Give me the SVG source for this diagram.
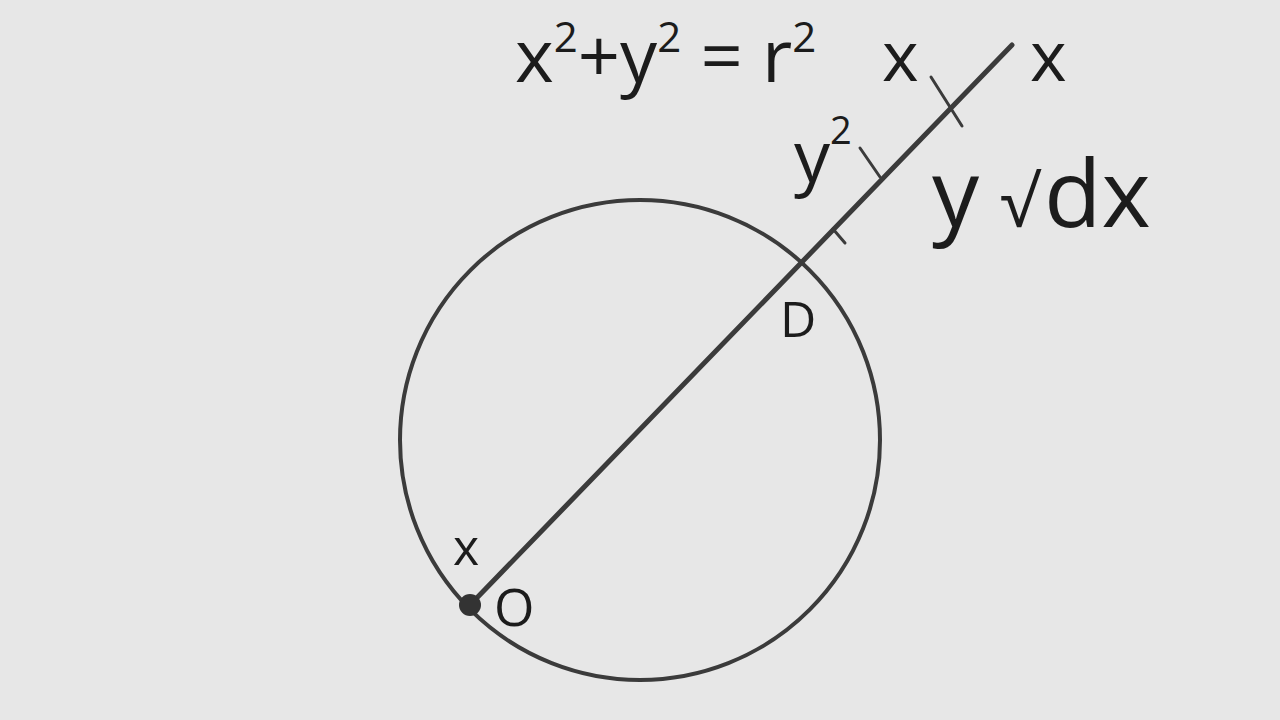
<svg xmlns="http://www.w3.org/2000/svg" width="1280" height="720" viewBox="0 0 1280 720">
<style>
.t{font-family:"Open Sans","Liberation Sans",sans-serif;fill:#1c1c1c;}
.s{stroke:#3b3b3b;fill:none;stroke-linecap:round;}
</style>
<rect width="1280" height="720" fill="#e7e7e7"/>
<g id="circle"><circle cx="640" cy="440" r="240" class="s" stroke-width="4"/></g>
<g id="connectors">
<line x1="470" y1="605" x2="1012" y2="45" class="s" stroke-width="5"/>
<line x1="931" y1="77" x2="962" y2="126" class="s" stroke-width="3"/>
<line x1="860" y1="148" x2="880" y2="177" class="s" stroke-width="3"/>
<line x1="833" y1="229" x2="845" y2="243" class="s" stroke-width="3"/>
</g>
<g id="origin"><circle cx="470" cy="605" r="11" fill="#333"/></g>
<g id="labels">
<text class="t" x="515" y="82" font-size="74">x<tspan font-size="42" dy="-30">2</tspan><tspan dy="30">+y</tspan><tspan font-size="42" dy="-30">2</tspan><tspan dy="30"> = r</tspan><tspan font-size="42" dy="-30">2</tspan></text>
<text class="t" x="882" y="81" font-size="70">x</text>
<text class="t" x="1030" y="81" font-size="70">x</text>
<text class="t" x="794" y="182" font-size="72">y<tspan font-size="38" dy="-38">2</tspan></text>
<text class="t" y="227" font-size="94"><tspan x="932">y</tspan><tspan x="1000" font-size="70">√</tspan><tspan x="1044">dx</tspan></text>
<text class="t" x="780" y="337" font-size="50">D</text>
<text class="t" x="453" y="565" font-size="50">x</text>
<text class="t" x="494" y="626" font-size="52">O</text>
</g>
</svg>
